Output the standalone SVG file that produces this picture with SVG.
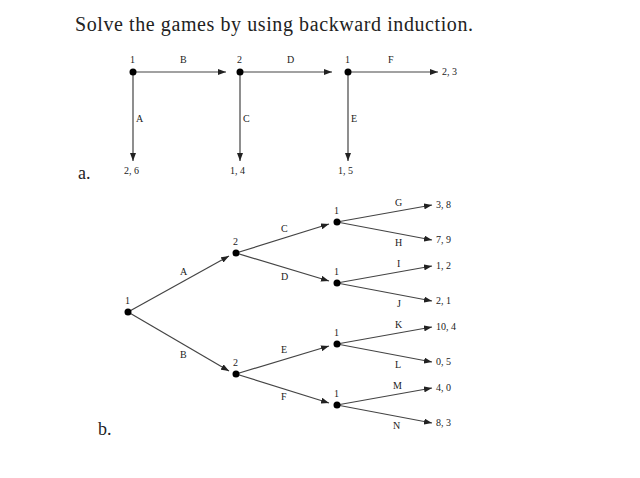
<svg xmlns="http://www.w3.org/2000/svg" width="640" height="478" viewBox="0 0 640 478">
<style>
text{font-family:"Liberation Serif",serif;fill:#222}
.s{font-size:10px}
.l{font-size:18px}
.t{font-size:20px}
line{stroke:#444;stroke-width:1.2}
</style>
<defs><marker id="a" markerWidth="8" markerHeight="6" refX="8" refY="3" orient="auto" markerUnits="userSpaceOnUse"><path d="M0,0L8,3L0,6z" fill="#222"/></marker></defs>
<rect width="640" height="478" fill="#fff"/>
<text class="t" x="75" y="31" textLength="398" lengthAdjust="spacing">Solve the games by using backward induction.</text>
<text class="l" x="78" y="179">a.</text>
<text class="l" x="98" y="435">b.</text>
<g id="connectors" marker-end="url(#a)">
<line x1="133" y1="72" x2="226" y2="72"/><line x1="240" y1="72" x2="332" y2="72"/><line x1="348" y1="72" x2="438" y2="72"/>
<line x1="133" y1="72" x2="133" y2="161"/><line x1="240" y1="72" x2="240" y2="161"/><line x1="348" y1="72" x2="348" y2="161"/>
<line x1="128" y1="312" x2="229" y2="256"/><line x1="128" y1="312" x2="229" y2="371"/>
<line x1="236" y1="253" x2="329" y2="224"/><line x1="236" y1="253" x2="329" y2="281"/>
<line x1="236" y1="374" x2="329" y2="346"/><line x1="236" y1="374" x2="329" y2="403"/>
<line x1="337" y1="222" x2="432" y2="205"/><line x1="337" y1="222" x2="432" y2="240"/>
<line x1="337" y1="283" x2="432" y2="266"/><line x1="337" y1="283" x2="432" y2="301"/>
<line x1="337" y1="344" x2="432" y2="327"/><line x1="337" y1="344" x2="432" y2="362"/>
<line x1="337" y1="405" x2="432" y2="388"/><line x1="337" y1="405" x2="432" y2="423"/>
</g>
<g id="a1"><circle cx="133" cy="72" r="3.5"/><text class="s" x="130" y="63">1</text></g>
<g id="a2"><circle cx="240" cy="72" r="3.5"/><text class="s" x="237" y="63">2</text></g>
<g id="a3"><circle cx="348" cy="72" r="3.5"/><text class="s" x="345" y="63">1</text></g>
<g id="alabels">
<text class="s" x="180" y="63">B</text><text class="s" x="287" y="63">D</text><text class="s" x="388" y="63">F</text>
<text class="s" x="136" y="122">A</text><text class="s" x="243" y="122">C</text><text class="s" x="351" y="122">E</text>
<text class="s" x="442" y="75">2, 3</text><text class="s" x="124" y="174">2, 6</text><text class="s" x="230" y="174">1, 4</text><text class="s" x="338" y="174">1, 5</text>
</g>
<g id="b0"><circle cx="128" cy="312" r="3.5"/><text class="s" x="125" y="304">1</text></g>
<g id="b1"><circle cx="236" cy="253" r="3.5"/><text class="s" x="233" y="245">2</text></g>
<g id="b2"><circle cx="236" cy="374" r="3.5"/><text class="s" x="233" y="366">2</text></g>
<g id="b3"><circle cx="337" cy="222" r="3.5"/><text class="s" x="334" y="214">1</text></g>
<g id="b4"><circle cx="337" cy="283" r="3.5"/><text class="s" x="334" y="275">1</text></g>
<g id="b5"><circle cx="337" cy="344" r="3.5"/><text class="s" x="334" y="336">1</text></g>
<g id="b6"><circle cx="337" cy="405" r="3.5"/><text class="s" x="334" y="397">1</text></g>
<g id="blabels">
<text class="s" x="180" y="275">A</text><text class="s" x="180" y="358">B</text>
<text class="s" x="281" y="232">C</text><text class="s" x="281" y="280">D</text>
<text class="s" x="281" y="353">E</text><text class="s" x="281" y="400">F</text>
<text class="s" x="395" y="206">G</text><text class="s" x="395" y="246">H</text>
<text class="s" x="397" y="267">I</text><text class="s" x="397" y="307">J</text>
<text class="s" x="395" y="328">K</text><text class="s" x="395" y="368">L</text>
<text class="s" x="393" y="389">M</text><text class="s" x="393" y="429">N</text>
<text class="s" x="436" y="208">3, 8</text><text class="s" x="436" y="243">7, 9</text>
<text class="s" x="436" y="269">1, 2</text><text class="s" x="436" y="304">2, 1</text>
<text class="s" x="436" y="330">10, 4</text><text class="s" x="436" y="365">0, 5</text>
<text class="s" x="436" y="391">4, 0</text><text class="s" x="436" y="426">8, 3</text>
</g>
</svg>
